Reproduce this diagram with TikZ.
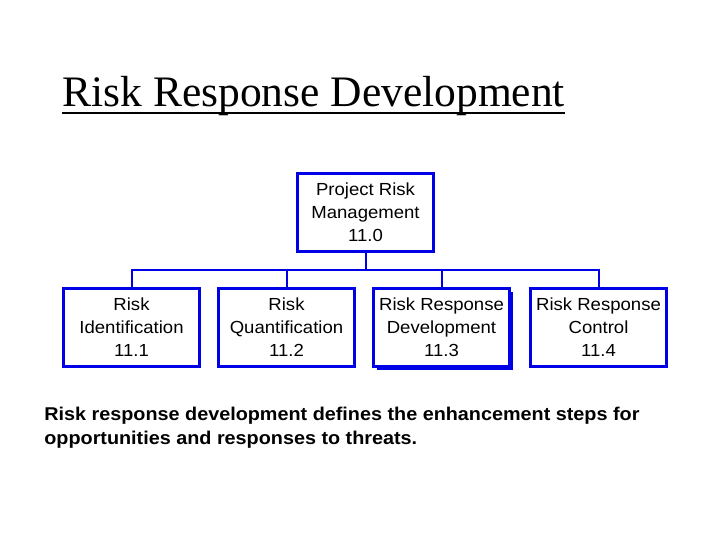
\documentclass[tikz,border=0pt]{standalone}
\usepackage{fontspec}
\setmainfont{Liberation Serif}
\setsansfont{Liberation Sans}[FakeStretch=1.06]
\newfontfamily\notefont{Liberation Sans}[FakeStretch=1.07]
\usetikzlibrary{shadows}
\definecolor{wbsblue}{RGB}{0,0,230}
\tikzset{every picture/.style={line width=0.75pt}}
\tikzset{
  wbsbox/.style={draw=wbsblue, line width=3pt, fill=white, minimum width=136pt, minimum height=78pt, inner sep=0pt, align=center, font=\sffamily\fontsize{17.5}{23}\selectfont},
  wbsline/.style={draw=wbsblue, line width=2pt}
}

\begin{document}
\begin{tikzpicture}[x=1pt,y=1pt,yscale=-1,xscale=1]
\path[use as bounding box] (0,0) rectangle (720,540); %page of 720 by 540

% Title
\node (title) [anchor=base west, inner sep=0pt, font=\fontsize{43.5}{50}\selectfont] at (62,107) {Risk Response Development};
\draw [line width=2pt] ([yshift=6pt]title.base west) -- ([yshift=6pt]title.base east);

% Top box
\node (prm) [wbsbox] at (365.5,212.5) {Project Risk\\Management\\11.0};

% Level 2 boxes
\node (ident) [wbsbox] at (131.5,327.5) {Risk\\Identification\\11.1};
\node (quant) [wbsbox] at (286.5,327.5) {Risk\\Quantification\\11.2};
\node (devel) [wbsbox, drop shadow={shadow xshift=3pt, shadow yshift=-3pt, fill=wbsblue, opacity=1}] at (441.5,327.5) {Risk Response\\Development\\11.3};
\node (contr) [wbsbox] at (598.5,327.5) {Risk Response\\Control\\11.4};

% Connectors
\foreach \b in {ident,quant,devel,contr}
  \draw [wbsline] (prm.south) -- ++(0,17) -| (\b.north);

% Text Node
\node (note) [anchor=base west, inner sep=0pt, align=left, font=\notefont\bfseries\fontsize{18.5}{23.5}\selectfont] at (44,444) {Risk response development defines the enhancement steps for\\opportunities and responses to threats.};

\end{tikzpicture}
\end{document}
